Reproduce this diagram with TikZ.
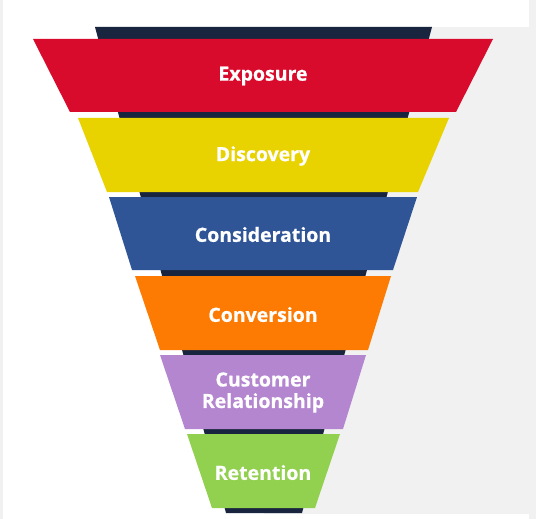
\documentclass[tikz,border=0pt]{standalone}
\usepackage{fontspec}
\setmainfont{Open Sans}
\newfontfamily\segfont[BoldFeatures={FakeBold=0.8}]{Open Sans}
\definecolor{bggray}{HTML}{F1F1F1}
\definecolor{rimdark}{HTML}{19243F}
\definecolor{segred}{HTML}{D90B2C}
\definecolor{segyellow}{HTML}{E8D200}
\definecolor{segblue}{HTML}{2F5597}
\definecolor{segorange}{HTML}{FD7B02}
\definecolor{segpurple}{HTML}{B486D0}
\definecolor{seggreen}{HTML}{92D050}
\tikzset{
  seglabel/.style={text=white, font=\segfont\bfseries\fontsize{19.5}{21.5}\selectfont, align=center, inner sep=0pt},
}
\begin{document}
\begin{tikzpicture}[x=1pt,y=-1pt]
\useasboundingbox (0,0) rectangle (536,519);
% background
\fill[bggray] (0,0) rectangle (536,519);
\fill[white] (3,0) rectangle (529,27);
\fill[white] (3,514) rectangle (529,519);
\fill[white] (3,27) rectangle (263.5,514);
% dark funnel rim behind the segments
\fill[rimdark] (95,27) -- (432,27) -- (302,513) -- (226,513) -- cycle;
% segments
\fill[segred]    (33,39)   -- (493,39)  -- (456,112) -- (70,112)  -- cycle;
\fill[segyellow] (78,118)  -- (449,118) -- (418,192) -- (107,192) -- cycle;
\fill[segblue]   (109,197) -- (417,197) -- (393,270) -- (132,270) -- cycle;
\fill[segorange] (135,276) -- (391,276) -- (368,350) -- (160,350) -- cycle;
\fill[segpurple] (160,355) -- (366,355) -- (343,429) -- (185,429) -- cycle;
\fill[seggreen]  (187,434) -- (340,434) -- (315,508) -- (212,508) -- cycle;
% labels
\node[seglabel] (exposure)      at (263,76)    {Exposure};
\node[seglabel] (discovery)     at (263,156)   {Discovery};
\node[seglabel] (consideration) at (263,234.5) {Consideration};
\node[seglabel] (conversion)    at (263,314.5) {Conversion};
\node[seglabel] (relationship)  at (263,392.5) {Customer\\Relationship};
\node[seglabel] (retention)     at (263,472.5) {Retention};
\end{tikzpicture}
\end{document}
